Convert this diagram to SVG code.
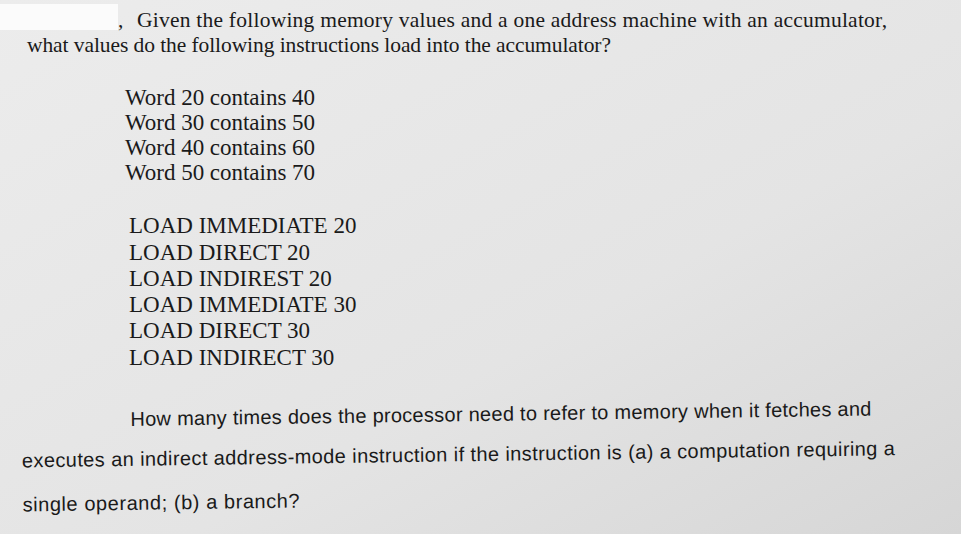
<svg xmlns="http://www.w3.org/2000/svg" width="961" height="534" viewBox="0 0 961 534">
<defs><linearGradient id="bg" x1="0" y1="0" x2="1" y2="1"><stop offset="0" stop-color="#ececec"/><stop offset="0.6" stop-color="#e4e4e4"/><stop offset="1" stop-color="#d6d6d6"/></linearGradient></defs>
<style>.s{font-family:"Liberation Serif",serif;font-size:23px;fill:#1a1a1a}.t{font-family:"Liberation Serif",serif;font-size:21.5px;fill:#1a1a1a}.a{font-family:"Liberation Sans",sans-serif;font-size:20px;fill:#1a1a1a}</style>
<rect width="961" height="534" fill="url(#bg)"/>
<rect x="0" y="4" width="118" height="26" fill="#fbfbfb"/>
<g id="question1">
<text class="t" x="118" y="27">,</text>
<text class="t" x="137" y="27" textLength="750">Given the following memory values and a one address machine with an accumulator,</text>
<text class="t" x="27" y="52" textLength="584">what values do the following instructions load into the accumulator?</text>
</g>
<g id="memory">
<text class="s" x="125" y="105" textLength="190">Word 20 contains 40</text>
<text class="s" x="125" y="130" textLength="190">Word 30 contains 50</text>
<text class="s" x="125" y="155" textLength="190">Word 40 contains 60</text>
<text class="s" x="125" y="180" textLength="190">Word 50 contains 70</text>
</g>
<g id="instructions">
<text class="s" x="129" y="233">LOAD IMMEDIATE 20</text>
<text class="s" x="129" y="260">LOAD DIRECT 20</text>
<text class="s" x="129" y="286">LOAD INDIREST 20</text>
<text class="s" x="129" y="312">LOAD IMMEDIATE 30</text>
<text class="s" x="129" y="338">LOAD DIRECT 30</text>
<text class="s" x="129" y="365">LOAD INDIRECT 30</text>
</g>
<g id="question2" transform="rotate(-0.8 480 460)">
<text class="a" x="131" y="421" textLength="741">How many times does the processor need to refer to memory when it fetches and</text>
<text class="a" x="22" y="461" textLength="873">executes an indirect address-mode instruction if the instruction is (a) a computation requiring a</text>
<text class="a" x="22" y="505" textLength="277">single operand; (b) a branch?</text>
</g>
</svg>
